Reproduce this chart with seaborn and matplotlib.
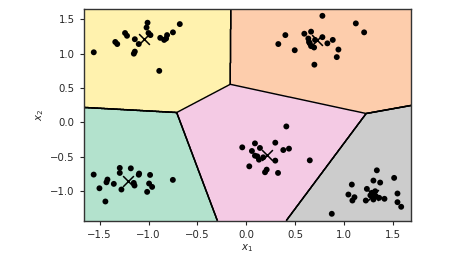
import numpy as np
import pandas as pd
import matplotlib
matplotlib.use("Agg")
import matplotlib.pyplot as plt
from matplotlib.colors import ListedColormap
import seaborn as sns

# ---- data ----
green_x = [-1.561, -1.502, -1.441, -1.430, -1.420, -1.355, -1.294, -1.294, -1.277, -1.181,
           -1.151, -1.143, -1.096, -1.100, -0.984, -0.994, -0.963, -1.014, -0.751]
green_y = [-0.758, -0.957, -1.149, -0.870, -0.830, -0.893, -0.661, -0.734, -0.975, -0.667,
           -0.879, -0.917, -0.743, -0.760, -0.763, -0.888, -0.937, -1.009, -0.835]
orange_x = [0.779, 1.121, 1.206, 0.328, 0.400, 0.496, 0.594, 0.663, 0.635, 0.642,
            0.663, 0.694, 0.704, 0.779, 0.830, 0.885, 0.943, 0.926, 0.697, 0.650]
orange_y = [1.55, 1.44, 1.31, 1.14, 1.27, 1.05, 1.29, 1.32, 1.22, 1.17,
            1.11, 1.09, 1.20, 1.24, 1.15, 1.20, 1.06, 0.95, 0.84, 1.15]
pink_x = [0.410, -0.041, 0.089, 0.058, 0.140, 0.089, 0.130, 0.113, 0.031, 0.209,
          0.192, 0.325, 0.297, 0.297, 0.379, 0.437, 0.650, 0.174]
pink_y = [-0.058, -0.362, -0.304, -0.415, -0.371, -0.483, -0.541, -0.493, -0.638, -0.686,
          -0.724, -0.734, -0.294, -0.555, -0.401, -0.381, -0.551, -0.507]
yellow_x = [-1.56, -1.34, -1.32, -1.24, -1.22, -1.14, -1.10, -1.15, -1.14, -1.01,
            -1.02, -1.00, -0.98, -0.89, -0.88, -0.84, -0.82, -0.81, -0.75, -0.68]
yellow_y = [1.02, 1.17, 1.14, 1.30, 1.26, 1.21, 1.14, 1.00, 1.03, 1.45,
            1.38, 1.30, 1.27, 0.75, 1.23, 1.20, 1.22, 1.27, 1.31, 1.43]
gray_x = [1.336, 1.513, 1.301, 1.370, 1.080, 1.234, 1.045, 1.107, 1.086, 1.223,
          1.285, 1.319, 1.326, 1.301, 1.360, 1.414, 1.547, 1.547, 1.585, 0.875, 1.270]
gray_y = [-0.696, -0.806, -0.845, -0.874, -0.903, -0.966, -1.048, -1.087, -1.135, -1.135,
          -1.023, -1.000, -1.072, -1.120, -1.096, -1.110, -1.033, -1.159, -1.226, -1.328, -1.060]

centroid_x = [-1.209, 0.727, 0.215, -1.048, 1.301]
centroid_y = [-0.855, 1.199, -0.478, 1.209, -1.048]
region_colors = ["#b3e2cd", "#fdcdac", "#f4cae4", "#fff2ae", "#cccccc"]

xs = green_x + orange_x + pink_x + yellow_x + gray_x
ys = green_y + orange_y + pink_y + yellow_y + gray_y
points = pd.DataFrame({"x1": xs, "x2": ys})
cents = pd.DataFrame({"x1": centroid_x, "x2": centroid_y})

sns.set_style("ticks")
plt.rcParams["font.family"] = ["DejaVu Sans"]

fig = plt.figure(figsize=(4.74, 2.56), dpi=100)
ax = fig.add_axes([0.177, 0.138, 0.690, 0.827])

xmin, xmax = points.x1.min() - 0.1, points.x1.max() + 0.1
ymin, ymax = points.x2.min() - 0.1, points.x2.max() + 0.1
gx, gy = np.meshgrid(np.linspace(xmin, xmax, 1200), np.linspace(ymin, ymax, 1200))
c = cents[["x1", "x2"]].to_numpy()
d = (gx[..., None] - c[:, 0]) ** 2 + (gy[..., None] - c[:, 1]) ** 2
Z = d.argmin(axis=2)

ax.contourf(gx, gy, Z, levels=np.arange(-0.5, 5, 1), cmap=ListedColormap(region_colors))
ax.contour(gx, gy, Z, levels=np.arange(0.5, 4.6, 1), colors="k", linewidths=1)

sns.scatterplot(data=points, x="x1", y="x2", ax=ax, color="k", s=18, edgecolor="none", zorder=3)
sns.scatterplot(data=cents, x="x1", y="x2", ax=ax, color="k", marker="x", s=60,
                linewidth=1.1, zorder=4)

ax.set_xlim(xmin, xmax)
ax.set_ylim(ymin, ymax)
ax.set_xticks([-1.5, -1.0, -0.5, 0.0, 0.5, 1.0, 1.5])
ax.set_yticks([-1.0, -0.5, 0.0, 0.5, 1.0, 1.5])
ax.tick_params(labelsize=7.3, length=3, width=0.8)
ax.set_xlabel("$x_1$", fontsize=7.3, labelpad=2)
ax.set_ylabel("$x_2$", fontsize=7.3, labelpad=3)
for s in ax.spines.values():
    s.set_visible(True)
    s.set_color("#333333")
    s.set_linewidth(1.0)

fig.savefig("out.png", dpi=100)
